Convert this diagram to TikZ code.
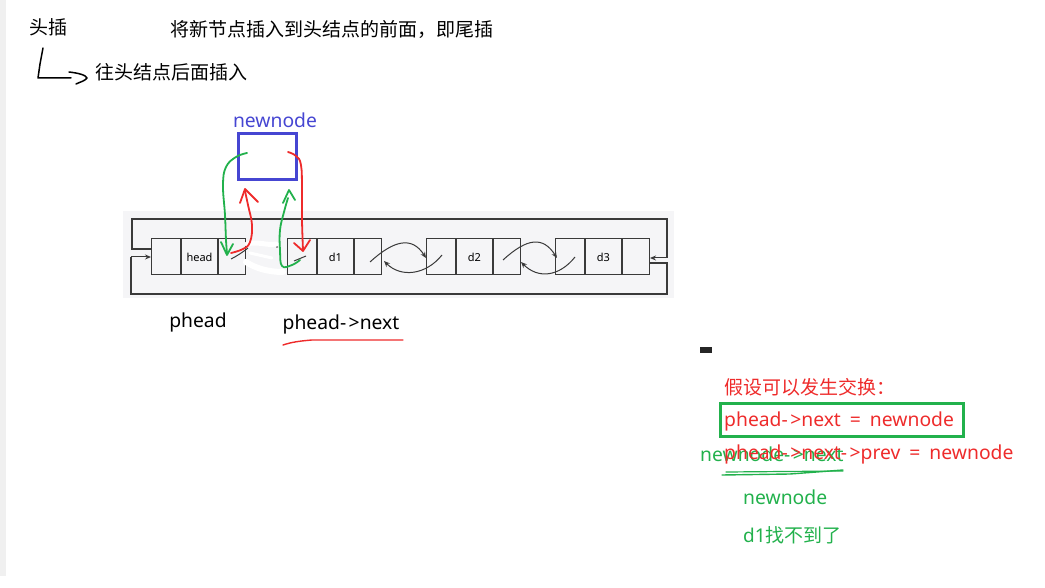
\documentclass[tikz,border=0pt]{standalone}
\usepackage{fontspec}
\setmainfont{Noto Sans CJK SC}
\newfontfamily\lat{Noto Sans}
\usetikzlibrary{arrows.meta,calc}
\definecolor{hred}{HTML}{EE2B2B}
\definecolor{hgreen}{HTML}{22B14C}
\definecolor{hblue}{HTML}{4646D2}
\definecolor{panel}{HTML}{F5F5F7}
\definecolor{lline}{HTML}{3A3A3A}
\newcommand{\myarr}{-\kern2.5pt>}
\newcommand{\myeq}{\hspace{9pt}=\hspace{9pt}}
\tikzset{
  cell/.style={draw=lline, line width=1pt, minimum height=36pt, inner sep=0pt, anchor=west, font=\lat\fontsize{11}{13}\selectfont},
  pw/.style={cell, minimum width=29pt},
  dw/.style={cell, minimum width=36pt},
  nw/.style={cell, minimum width=27pt},
  ptr/.style={lline, line width=1pt, -{Stealth[length=6pt,width=5pt]}},
  loopline/.style={lline, line width=1.2pt},
  txt/.style={inner sep=0pt, font=\fontsize{19}{22}\selectfont},
  ltxt/.style={inner sep=0pt, yshift=-1.5pt, font=\lat\fontsize{19.3}{22}\selectfont},
  pen/.style={line width=1.8pt, line cap=round, line join=round},
}
\begin{document}
\begin{tikzpicture}[x=1pt,y=-1pt]
\useasboundingbox (0,0) rectangle (1045,588);
\fill[gray!12] (0,0) rectangle (6,576);
% titles
\node[txt] (t1) at (48,27) {头插};
\node[txt, anchor=west] (t2) at (170,29) {将新节点插入到头结点的前面，即尾插};
\node[txt, anchor=west] (t3) at (95,72) {往头结点后面插入};
\draw[pen, line width=1.5pt] (43,48) -- (40,64) -- (38,78) -- (71,78);
\draw[pen, line width=1.5pt] (69,72) .. controls (78,73) and (86,75) .. (87,78) .. controls (85,81) and (80,82) .. (76,84);
% panel
\fill[panel] (123,211) rectangle (674,298);
% list nodes
\node[pw] (hp) at (151,257) {};
\node[dw] (hd) at (hp.east) {head};
\node[nw] (hn) at (hd.east) {};
\node[pw] (ap) at (287,257) {};
\node[dw] (ad) at (ap.east) {d1};
\node[nw] (an) at (ad.east) {};
\node[pw] (bp) at (426,257) {};
\node[dw] (bd) at (bp.east) {d2};
\node[nw] (bn) at (bd.east) {};
\node[pw] (cp) at (555,257) {};
\node[dw] (cd) at (cp.east) {d3};
\node[nw] (cn) at (cd.east) {};
% loops
\coordinate (lt1) at (132,249);
\coordinate (lt2) at (132,219);
\coordinate (lt3) at (667,219);
\coordinate (lt4) at (667,258);
\draw[loopline] ($(hp.west)+(0,-8)$) -- (lt1) -- (lt2) -- (lt3) -- (lt4);
\draw[ptr] (lt4) -- ($(cn.east)+(0,1)$);
\coordinate (lb1) at (667,263);
\coordinate (lb2) at (667,294);
\coordinate (lb3) at (131,294);
\coordinate (lb4) at (131,257);
\draw[loopline] ($(cn.east)+(0,6)$) -- (lb1) -- (lb2) -- (lb3) -- (lb4);
\draw[ptr] (lb4) -- (hp.west);
% next / prev pointers
\draw[ptr] ($(an.center)+(2,5)$) .. controls +(24,-22) and +(-14,-22) .. ($(bp.west)+(0,1)$);
\draw[ptr] ($(bp.center)+(1,-2)$) .. controls +(-16,20) and +(17,17) .. ($(an.east)+(2,4)$);
\draw[ptr] ($(bn.center)+(-4,3)$) .. controls +(24,-22) and +(-14,-22) .. ($(cp.west)+(2,1)$);
\draw[ptr] ($(cp.center)+(5,0)$) .. controls +(-16,20) and +(17,17) .. ($(bn.east)+(0,5)$);
% remaining stubs of erased head<->d1 pointers
\draw[lline, line width=1pt] ($(hn.center)+(-1,2)$) .. controls +(6,-3) and +(-5,4) .. ($(hn.east)+(2,-9)$);
\draw[lline, line width=1pt] ($(ap.center)+(-8,4)$) -- ($(ap.center)+(4,-1)$);
\fill[lline] (277,247) circle (0.8);
% white erasing strokes
\draw[white, line width=5pt, line cap=round] (247,244) .. controls (258,241) and (268,246) .. (276,244);
\draw[white, line width=6pt, line cap=round] (246,262) .. controls (255,268) and (268,272) .. (283,272);
\draw[white, line width=3pt, line cap=round] (250,253) -- (272,258);
% newnode
\node[ltxt, text=hblue] (nnl) at (275,119) {newnode};
\node[draw=hblue, line width=3pt, minimum width=58pt, minimum height=46pt, inner sep=0pt] (nn) at (267.5,156.5) {};
% hand-drawn arrows
\draw[pen, hgreen] plot[smooth, tension=0.7] coordinates {(247,153) (236,157) (226,167) (223,185) (225,215) (226,240) (227,253)};
\draw[pen, hgreen] (221,242) -- (227,255) -- (233,244);
\draw[pen, hred] plot[smooth, tension=0.7] coordinates {(231,253) (243,249) (250,242) (252,225) (248,205) (245,191)};
\draw[pen, hred] (240,203) -- (245,189) -- (258,202);
\draw[pen, hgreen] plot[smooth, tension=0.7] coordinates {(300,260) (292,265) (282,266) (280,250) (280,230) (284,212) (288,198)};
\draw[pen, hgreen] (283,203) -- (289,190) -- (295,200);
\draw[pen, hred] plot[smooth, tension=0.7] coordinates {(288,152) (296,156) (301,165) (302,190) (302,220) (303,250)};
\draw[pen, hred] (294,243) -- (303,251) -- (310,240);
% labels under list
\node[ltxt] (lph) at (198,321) {phead};
\node[ltxt] (lpn) at (341,323) {phead\myarr next};
\draw[pen, hred, line width=1.4pt] (283,345) .. controls (292,342) and (300,341) .. (312,340) -- (403,340);
% mark
\fill[black!85] (700,347) rectangle (712,353);
% right column
\node[txt, text=hred, anchor=west] (q) at (724,387) {假设可以发生交换：};
\node[ltxt, text=hred, anchor=west] (s1) at (724,420) {phead\myarr next\myeq newnode};
\node[draw=hgreen, line width=3pt, minimum width=243pt, minimum height=33pt, inner sep=0pt] (gb) at (841.5,419.5) {};
\node[ltxt, text=hgreen, anchor=west] (s2) at (700,453) {newnode\myarr next};
\node[ltxt, text=hred, anchor=west] (s3) at (724,453) {phead\myarr next\myarr prev\myeq newnode};
\draw[pen, hgreen, line width=1.4pt] (722,475) -- (790,474) -- (843,470);
\draw[pen, hgreen, line width=1.2pt] (726,472) -- (843,471);
\node[ltxt, text=hgreen, anchor=west] (s4) at (743,496) {newnode};
\node[txt, text=hgreen, anchor=west] (s5) at (743,535) {{\lat d1}找不到了};
\end{tikzpicture}
\end{document}
